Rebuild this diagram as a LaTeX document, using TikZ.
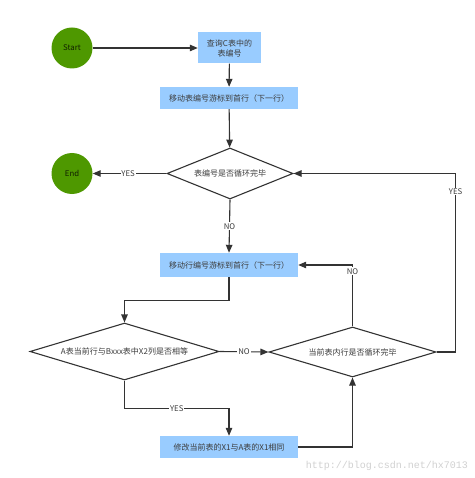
\documentclass[tikz,border=0pt]{standalone}
\usepackage{fontspec}
\setmainfont{Noto Sans CJK SC}
\newfontfamily\wmfont{Liberation Mono}
\usetikzlibrary{shapes.geometric,arrows.meta,positioning}
\definecolor{gr}{RGB}{78,152,0}
\definecolor{bx}{RGB}{153,204,255}
\definecolor{ln}{RGB}{51,51,51}
\definecolor{tx}{RGB}{60,60,60}
\tikzset{
  term/.style={circle,fill=gr,minimum size=41pt,inner sep=0pt,text=black!80!gr,font=\fontsize{7.8}{9}\selectfont},
  procbox/.style={rectangle,fill=bx,inner sep=0pt,text=tx,align=center,font=\fontsize{8}{10}\selectfont},
  decide/.style={diamond,draw=ln,line width=1.1pt,inner sep=0pt,text=tx,font=\fontsize{8}{9}\selectfont},
  arr/.style={draw=ln,line width=1.1pt,-{Triangle[length=8pt,width=6.5pt]}},
  lbl/.style={fill=white,inner sep=0.8pt,text=tx,font=\fontsize{7.8}{8}\selectfont},
}
\begin{document}
\begin{tikzpicture}[x=1pt,y=1pt]
\useasboundingbox[fill=white] (0,0) rectangle (474,-478);
\node[term] (start) at (72,-48) {Start};
\node[procbox,minimum width=63pt,minimum height=31pt] (b1) at (229.5,-48) {查询C表中的\\表编号};
\node[procbox,minimum width=138pt,minimum height=22pt] (b2) at (229,-98) {移动表编号游标到首行（下一行）};
\node[decide,aspect=2.47,minimum width=126pt,minimum height=51pt] (d1) at (230,-173.5) {表编号是否循环完毕};
\node[term] (end) at (72,-173.5) {End};
\node[procbox,minimum width=138pt,minimum height=24pt] (b3) at (229,-265) {移动行编号游标到首行（下一行）};
\node[decide,aspect=3.3,minimum width=189pt,minimum height=57pt] (d2) at (124.5,-351.5) {A表当前行与Bxxx表中X2列是否相等};
\node[decide,aspect=3.34,minimum width=167pt,minimum height=50pt] (d3) at (352.5,-352) {当前表内行是否循环完毕};
\node[procbox,minimum width=138pt,minimum height=22pt] (b4) at (229,-447) {修改当前表的X1与A表的X1相同};
\node[text=black!18,font=\wmfont\fontsize{10}{12}\selectfont,inner sep=0pt,anchor=east] (wm) at (468,-466) {http://blog.csdn.net/hx7013};

\draw[arr] (start) -- (b1);
\draw[arr] (b1) -- (b2);
\draw[arr] (b2) -- (d1);
\draw[arr] (d1.west) -- node[lbl,pos=0.52]{YES} (end);
\draw[arr] (d1.south) -- node[lbl]{NO} (b3.north);
\draw[arr] (b3.south) -- ++(0,-23) -| (d2.north);
\draw[arr] (d2.east) -- node[lbl]{NO} (d3.west);
\draw[arr] (d2.south) -- ++(0,-28) -| node[lbl,pos=0.25]{YES} (b4.north);
\draw[arr] (b4.east) -| (d3.south);
\draw[arr] (d3.north) |- node[lbl,pos=0.45]{NO} (b3.east);
\draw[arr] (d3.east) -- ++(19,0) |- node[lbl,pos=0.45]{YES} (d1.east);
\end{tikzpicture}
\end{document}
